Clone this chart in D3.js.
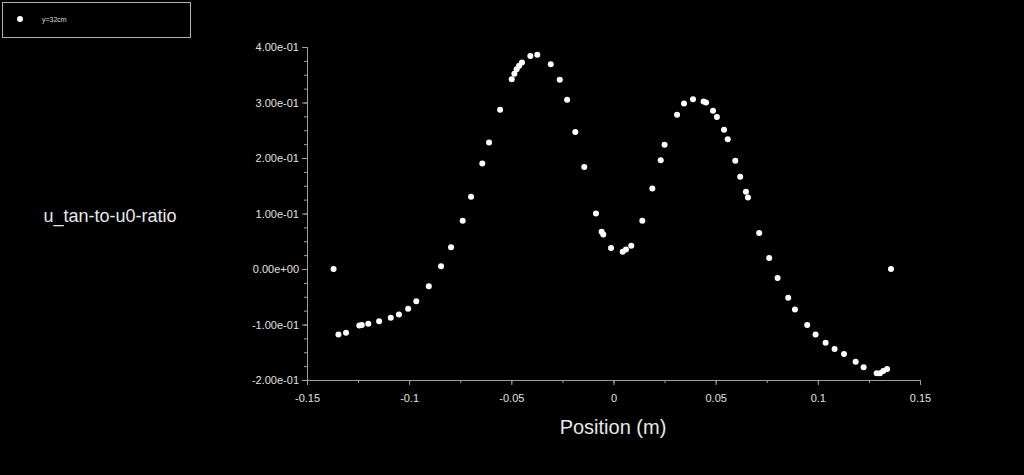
<!DOCTYPE html>
<html>
<head>
<meta charset="utf-8">
<script src="https://cdn.jsdelivr.net/npm/d3@7"></script>
<style>
  body { margin: 0; background: #000; }
  svg { display: block; font-family: "Liberation Sans", Arial, sans-serif; }
</style>
</head>
<body>
<svg id="chart" width="1024" height="475"></svg>
<script>
// y=32cm profile
var positions = [-0.137, -0.1346, -0.1309, -0.1244, -0.1232, -0.12, -0.1147, -0.109, -0.105, -0.1005,
  -0.0965, -0.0904, -0.0844, -0.0795, -0.0738, -0.0697, -0.0642, -0.0609, -0.0555, -0.0498,
  -0.0485, -0.0474, -0.0462, -0.0448, -0.0407, -0.0373, -0.0307, -0.0263, -0.0227, -0.0187,
  -0.0143, -0.0086, -0.0058, -0.005, -0.0012, 0.0045, 0.0061, 0.0087, 0.0141, 0.019,
  0.0231, 0.025, 0.0311, 0.0345, 0.0389, 0.0441, 0.0453, 0.0487, 0.0506, 0.0541,
  0.0559, 0.0596, 0.062, 0.0648, 0.0658, 0.0713, 0.0762, 0.0803, 0.0855, 0.0888,
  0.0948, 0.0989, 0.1038, 0.1082, 0.1128, 0.1185, 0.1224, 0.1288, 0.1304, 0.132,
  0.1339, 0.1358];
var ratios = [0, -0.118, -0.115, -0.102, -0.101, -0.0985, -0.094, -0.088, -0.082, -0.0715,
  -0.058, -0.031, 0.005, 0.039, 0.087, 0.13, 0.19, 0.228, 0.287, 0.342,
  0.352, 0.36, 0.366, 0.372, 0.384, 0.386, 0.369, 0.341, 0.305, 0.247,
  0.184, 0.1, 0.067, 0.062, 0.038, 0.031, 0.035, 0.042, 0.087, 0.145,
  0.196, 0.224, 0.278, 0.298, 0.306, 0.302, 0.3, 0.285, 0.274, 0.251,
  0.234, 0.195, 0.166, 0.139, 0.129, 0.065, 0.02, -0.016, -0.052, -0.073,
  -0.101, -0.118, -0.133, -0.144, -0.153, -0.167, -0.177, -0.188, -0.188, -0.184,
  -0.18, 0];
var xTicks = [-0.15, -0.1, -0.05, 0, 0.05, 0.1, 0.15];
var yTicks = [-0.2, -0.1, 0, 0.1, 0.2, 0.3, 0.4];
var seriesName = "y=32cm";

var svg = d3.select("#chart");
var axisColor = "#a0a0a0";

var x = d3.scaleLinear().domain([-0.15, 0.15]).range([307, 920]);
var y = d3.scaleLinear().domain([-0.2, 0.4]).range([380, 47]);

// fluent-style exponent: 4.00e-01
function expFmt(d) {
  var s = d.toExponential(2).split("e");
  var e = +s[1];
  return s[0] + "e" + (e < 0 ? "-" : "+") + String(Math.abs(e)).padStart(2, "0");
}

// minor ticks
svg.append("g").attr("transform", "translate(0,380)")
  .call(d3.axisBottom(x).tickValues(d3.range(-0.15, 0.1501, 0.025)).tickSize(3).tickFormat(""));
svg.append("g").attr("transform", "translate(307,0)")
  .call(d3.axisLeft(y).tickValues(d3.range(-0.2, 0.4001, 0.025)).tickSize(3).tickFormat(""));

var xAxis = svg.append("g").attr("transform", "translate(0,380)")
  .call(d3.axisBottom(x).tickValues(xTicks).tickSize(5).tickFormat(function(d) { return String(+d.toFixed(2)); }));
var yAxis = svg.append("g").attr("transform", "translate(307,0)")
  .call(d3.axisLeft(y).tickValues(yTicks).tickSize(5).tickFormat(expFmt));

svg.selectAll(".domain, .tick line").attr("stroke", axisColor);
svg.selectAll(".tick text").attr("fill", "#e0e0e0").style("font-size", "11px").style("font-family", "Liberation Sans, Arial, sans-serif");
xAxis.selectAll(".tick text").attr("dy", "1.3em");

svg.append("g").selectAll("circle")
  .data(positions)
  .enter().append("circle")
  .attr("cx", function(d) { return x(d); })
  .attr("cy", function(d, i) { return y(ratios[i]); })
  .attr("r", 3)
  .attr("fill", "#fff");

svg.append("text").attr("x", 613).attr("y", 434).attr("text-anchor", "middle")
  .attr("fill", "#e8e8e8").style("font-size", "20px").text("Position (m)");
svg.append("text").attr("x", 110).attr("y", 222).attr("text-anchor", "middle")
  .attr("fill", "#e8e8e8").style("font-size", "18px").text("u_tan-to-u0-ratio");

// legend
svg.append("rect").attr("x", 2.5).attr("y", 2.5).attr("width", 188).attr("height", 35)
  .attr("fill", "none").attr("stroke", "#b0b0b0");
svg.append("circle").attr("cx", 20).attr("cy", 19).attr("r", 3).attr("fill", "#fff");
svg.append("text").attr("x", 42).attr("y", 22).attr("fill", "#ddd").style("font-size", "7px").text(seriesName);
</script>
</body>
</html>
